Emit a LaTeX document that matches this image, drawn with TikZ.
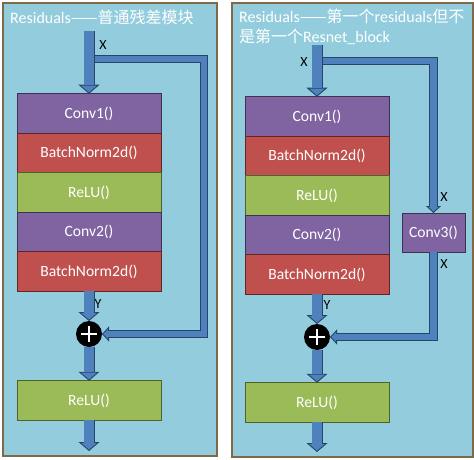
\documentclass[tikz,border=0pt]{standalone}
\usepackage{fontspec}
\setmainfont{Carlito}
\newfontfamily\cjk{Noto Sans CJK SC}
\usetikzlibrary{arrows.meta,positioning}
\definecolor{panelfill}{HTML}{93CDDD}
\definecolor{panelline}{HTML}{7F6A48}
\definecolor{convfill}{HTML}{8064A2}
\definecolor{convline}{HTML}{3F3151}
\definecolor{bnfill}{HTML}{C0504D}
\definecolor{bnline}{HTML}{632523}
\definecolor{relufill}{HTML}{9BBB59}
\definecolor{reluline}{HTML}{4F6228}
\definecolor{arrowfill}{HTML}{4F81BD}
\definecolor{arrowline}{HTML}{27446B}
\begin{document}
\begin{tikzpicture}[x=1pt,y=-1pt,node distance=0pt,
    layer/.style={draw, line width=0.9pt, minimum width=144pt, minimum height=39.5pt,
      inner sep=0pt, outer sep=0pt, text=white, font=\fontsize{15.6}{18}\selectfont},
    conv/.style={layer, fill=convfill, draw=convline},
    bn/.style={layer, fill=bnfill, draw=bnline},
    relu/.style={layer, fill=relufill, draw=reluline},
    add/.style={circle, fill=black, minimum size=26pt, inner sep=0pt, outer sep=0pt,
      path picture={\draw[white, line width=2.6pt]
        ([xshift=-8pt]path picture bounding box.center) -- ([xshift=8pt]path picture bounding box.center)
        ([yshift=-8pt]path picture bounding box.center) -- ([yshift=8pt]path picture bounding box.center);}},
    lbl/.style={font=\fontsize{14}{16}\selectfont, inner sep=0pt},
    title/.style={text=white, font=\fontsize{16}{20}\selectfont, inner sep=0pt, align=left},
    panel/.style={fill=panelfill, draw=panelline, line width=1.2pt},
    fat/.style={draw=arrowline, line width=11pt,
      -{Triangle[width=21pt,length=9pt,line width=0.9pt,fill=arrowfill]},
      postaction={draw=arrowfill, line width=9.2pt, -, shorten >=8.4pt}},
    skip/.style={draw=arrowline, line width=8.5pt, line join=miter,
      -{Triangle[width=15pt,length=7pt,line width=0.9pt,fill=arrowfill]},
      postaction={draw=arrowfill, line width=6.7pt, -, shorten >=6.4pt}}]
  \useasboundingbox (0,0) rectangle (474,460);
  % panels
  \draw[panel] (3,3) rectangle (217,456);
  \draw[panel] (232,3) rectangle (473,457);
  \node[title, anchor=west] (titleL) at (10,17) {Residuals{\cjk ——普通残差模块}};
  \node[title, anchor=north west] (titleR) at (239,9)
    {Residuals{\cjk ——第一个}residuals{\cjk 但不}\\{\cjk 是第一个}Resnet\_block};
  % plain residual block
  \node[conv] (conv1L) at (89,113.5) {Conv1()};
  \node[bn, below=of conv1L] (bn1L) {BatchNorm2d()};
  \node[relu, below=of bn1L] (relu1L) {ReLU()};
  \node[conv, below=of relu1L] (conv2L) {Conv2()};
  \node[bn, below=of conv2L] (bn2L) {BatchNorm2d()};
  \node[add] (plusL) at (89,334) {};
  \node[relu] (relu2L) at (89,400.5) {ReLU()};
  \coordinate (inL) at (89,31);
  \coordinate (skipL) at (89,59);
  \coordinate (cornerL) at (204,59);
  \coordinate (outL) at (89,451);
  \node[lbl] (xL) at (103,45) {X};
  \node[lbl] (yL) at (98,304) {Y};
  % block with projection shortcut
  \node[conv] (conv1R) at (317,116.5) {Conv1()};
  \node[bn, below=of conv1R] (bn1R) {BatchNorm2d()};
  \node[relu, below=of bn1R] (relu1R) {ReLU()};
  \node[conv, below=of relu1R] (conv2R) {Conv2()};
  \node[bn, below=of conv2R] (bn2R) {BatchNorm2d()};
  \node[add] (plusR) at (317,337) {};
  \node[relu] (relu2R) at (317,402.5) {ReLU()};
  \node[conv, minimum width=63pt, minimum height=39pt] (conv3R) at (433.5,232.5) {Conv3()};
  \coordinate (inR) at (317,45);
  \coordinate (skipR) at (317,61);
  \coordinate (cornerR) at (433.5,61);
  \coordinate (outR) at (317,452);
  \node[lbl] (xR) at (304,62) {X};
  \node[lbl] (yR) at (327,305) {Y};
  \node[lbl] (x3inR) at (444,197) {X};
  \node[lbl] (x3outR) at (444,264) {X};
  % shortcuts
  \draw[skip] (skipL) -- (cornerL) |- (plusL.east);
  \draw[skip] (skipR) -- (cornerR) -- (conv3R.north);
  \draw[skip] (conv3R.south) |- (plusR.east);
  % main paths
  \draw[fat] (inL) -- (conv1L);
  \draw[fat] (bn2L) -- (plusL);
  \draw[fat] (plusL) -- (relu2L);
  \draw[fat] (relu2L) -- (outL);
  \draw[fat] (inR) -- (conv1R);
  \draw[fat] (bn2R) -- (plusR);
  \draw[fat] (plusR) -- (relu2R);
  \draw[fat] (relu2R) -- (outR);
\end{tikzpicture}
\end{document}
